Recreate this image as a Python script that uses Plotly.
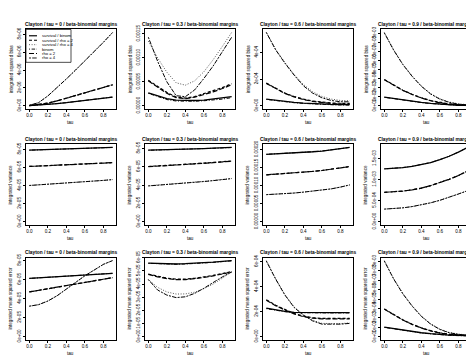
import plotly.graph_objects as go

# ---------------- data ----------------
tau = [0.0, 0.1, 0.2, 0.3, 0.4, 0.5, 0.6, 0.7, 0.8, 0.9]
series_names = ["survival / binom", "survival / rho = 2", "survival / rho = 4",
                "binom", "rho = 2", "rho = 4"]
copula_tau = ["0", "0.3", "0.6", "0.9"]
row_labels = ["integrated squared bias", "integrated variance",
              "integrated mean squared error"]

# each list: [surv_binom, surv_rho2, surv_rho4, binom, rho2, rho4] (scaled units)
isb_t00 = [
    [0.02, 0.08, 0.16, 0.25, 0.35, 0.46, 0.58, 0.70, 0.84, 0.98],
    [0.02, 0.12, 0.30, 0.55, 0.85, 1.15, 1.45, 1.75, 2.05, 2.35],
    [0.05, 0.35, 1.10, 2.00, 3.00, 4.00, 5.00, 6.05, 7.10, 8.20],
    [0.02, 0.08, 0.16, 0.25, 0.35, 0.46, 0.58, 0.70, 0.84, 0.98],
    [0.02, 0.12, 0.30, 0.55, 0.85, 1.15, 1.45, 1.75, 2.05, 2.35],
    [0.05, 0.35, 1.10, 2.00, 3.00, 4.00, 5.00, 6.05, 7.10, 8.20],
]
isb_t03 = [
    [2.7, 2.1, 1.5, 1.2, 1.1, 1.1, 1.2, 1.4, 1.6, 1.9],
    [5.3, 4.0, 2.8, 1.8, 1.6, 1.9, 2.5, 3.1, 3.8, 4.6],
    [13.5, 10.0, 7.0, 4.8, 4.3, 5.2, 7.1, 9.6, 12.4, 15.3],
    [2.6, 1.9, 1.3, 1.0, 0.9, 0.95, 1.05, 1.2, 1.4, 1.7],
    [5.2, 3.9, 2.6, 1.7, 1.5, 1.8, 2.3, 2.9, 3.6, 4.4],
    [14.3, 9.3, 5.0, 2.1, 1.9, 3.3, 5.7, 8.3, 11.3, 14.3],
]
isb_t06 = [
    [0.50, 0.40, 0.32, 0.25, 0.20, 0.15, 0.12, 0.10, 0.09, 0.08],
    [1.70, 1.30, 0.95, 0.70, 0.50, 0.36, 0.27, 0.21, 0.19, 0.18],
    [5.50, 4.25, 3.25, 2.35, 1.60, 1.05, 0.70, 0.50, 0.40, 0.38],
    [0.48, 0.38, 0.30, 0.23, 0.18, 0.13, 0.10, 0.08, 0.06, 0.05],
    [1.68, 1.28, 0.93, 0.67, 0.47, 0.33, 0.23, 0.17, 0.14, 0.12],
    [5.50, 4.20, 3.20, 2.30, 1.50, 0.95, 0.60, 0.40, 0.30, 0.30],
]
isb_t09 = [
    [0.96, 0.80, 0.64, 0.50, 0.37, 0.27, 0.18, 0.11, 0.06, 0.03],
    [2.90, 2.30, 1.72, 1.27, 0.88, 0.58, 0.35, 0.20, 0.12, 0.06],
    [8.10, 6.20, 4.60, 3.30, 2.20, 1.35, 0.77, 0.42, 0.22, 0.12],
    [0.94, 0.78, 0.62, 0.48, 0.35, 0.25, 0.16, 0.10, 0.05, 0.02],
    [2.88, 2.28, 1.70, 1.25, 0.86, 0.56, 0.33, 0.19, 0.10, 0.05],
    [8.05, 6.15, 4.55, 3.25, 2.15, 1.30, 0.73, 0.38, 0.18, 0.09],
]
var_t00 = [
    [7.90, 7.93, 7.96, 8.00, 8.03, 8.06, 8.10, 8.13, 8.17, 8.20],
    [6.10, 6.14, 6.18, 6.22, 6.27, 6.32, 6.37, 6.42, 6.47, 6.52],
    [4.00, 4.06, 4.12, 4.19, 4.26, 4.33, 4.40, 4.48, 4.56, 4.65],
    [7.90, 7.93, 7.96, 8.00, 8.03, 8.06, 8.10, 8.13, 8.17, 8.20],
    [6.10, 6.14, 6.18, 6.22, 6.27, 6.32, 6.37, 6.42, 6.47, 6.52],
    [4.00, 4.06, 4.12, 4.19, 4.26, 4.33, 4.40, 4.48, 4.56, 4.65],
]
var_t03 = [
    [7.80, 7.82, 7.85, 7.88, 7.91, 7.94, 7.98, 8.02, 8.06, 8.10],
    [6.02, 6.07, 6.13, 6.19, 6.25, 6.32, 6.39, 6.46, 6.54, 6.62],
    [3.92, 3.99, 4.06, 4.14, 4.22, 4.31, 4.40, 4.50, 4.61, 4.72],
    [7.79, 7.81, 7.84, 7.87, 7.90, 7.93, 7.97, 8.01, 8.05, 8.09],
    [6.00, 6.05, 6.11, 6.17, 6.23, 6.30, 6.37, 6.44, 6.52, 6.60],
    [3.90, 3.97, 4.04, 4.12, 4.20, 4.29, 4.38, 4.48, 4.59, 4.70],
]
var_t06 = [
    [18.7, 18.8, 18.9, 19.05, 19.2, 19.4, 19.6, 19.9, 20.2, 20.6],
    [13.0, 13.15, 13.3, 13.5, 13.7, 13.95, 14.2, 14.5, 14.9, 15.3],
    [7.5, 7.6, 7.75, 7.95, 8.2, 8.45, 8.75, 9.1, 9.6, 10.2],
    [18.7, 18.8, 18.9, 19.05, 19.2, 19.4, 19.6, 19.9, 20.2, 20.6],
    [13.0, 13.15, 13.3, 13.5, 13.7, 13.95, 14.2, 14.5, 14.9, 15.3],
    [7.5, 7.6, 7.75, 7.95, 8.2, 8.45, 8.75, 9.1, 9.6, 10.2],
]
var_t09 = [
    [1.26, 1.27, 1.29, 1.32, 1.36, 1.41, 1.48, 1.56, 1.66, 1.77],
    [0.70, 0.71, 0.73, 0.76, 0.80, 0.86, 0.93, 1.01, 1.10, 1.21],
    [0.30, 0.31, 0.33, 0.36, 0.40, 0.45, 0.51, 0.58, 0.66, 0.74],
    [1.26, 1.27, 1.29, 1.32, 1.36, 1.41, 1.48, 1.56, 1.66, 1.77],
    [0.70, 0.71, 0.73, 0.76, 0.80, 0.86, 0.93, 1.01, 1.10, 1.21],
    [0.30, 0.31, 0.33, 0.36, 0.40, 0.45, 0.51, 0.58, 0.66, 0.74],
]
mse_t00 = [
    [3.06, 3.09, 3.12, 3.15, 3.18, 3.21, 3.24, 3.27, 3.30, 3.33],
    [2.35, 2.43, 2.52, 2.60, 2.68, 2.77, 2.85, 2.93, 3.02, 3.10],
    [1.60, 1.68, 1.87, 2.15, 2.50, 2.85, 3.20, 3.50, 3.80, 4.00],
    [3.06, 3.09, 3.12, 3.15, 3.18, 3.21, 3.24, 3.27, 3.30, 3.33],
    [2.35, 2.43, 2.52, 2.60, 2.68, 2.77, 2.85, 2.93, 3.02, 3.10],
    [1.60, 1.68, 1.87, 2.15, 2.50, 2.85, 3.20, 3.50, 3.80, 4.00],
]
mse_t03 = [
    [5.60, 5.56, 5.53, 5.53, 5.55, 5.58, 5.62, 5.67, 5.73, 5.79],
    [4.76, 4.58, 4.45, 4.38, 4.38, 4.44, 4.54, 4.66, 4.80, 4.95],
    [4.34, 3.75, 3.40, 3.24, 3.25, 3.38, 3.65, 4.00, 4.45, 4.95],
    [5.58, 5.54, 5.51, 5.51, 5.53, 5.56, 5.60, 5.65, 5.71, 5.77],
    [4.74, 4.55, 4.42, 4.34, 4.34, 4.40, 4.50, 4.62, 4.77, 4.92],
    [4.34, 3.55, 3.16, 2.97, 3.03, 3.29, 3.68, 4.13, 4.55, 4.92],
]
mse_t06 = [
    [1.14, 1.07, 1.01, 0.97, 0.96, 0.96, 0.96, 0.96, 0.96, 0.96],
    [1.48, 1.26, 1.09, 0.93, 0.82, 0.76, 0.73, 0.73, 0.73, 0.73],
    [3.05, 2.33, 1.69, 1.19, 0.88, 0.66, 0.53, 0.51, 0.52, 0.55],
    [1.12, 1.05, 1.00, 0.96, 0.95, 0.95, 0.95, 0.95, 0.95, 0.95],
    [1.46, 1.24, 1.07, 0.91, 0.80, 0.74, 0.71, 0.71, 0.71, 0.71],
    [3.03, 2.31, 1.67, 1.17, 0.86, 0.63, 0.50, 0.49, 0.50, 0.53],
]
mse_t09 = [
    [1.00, 0.84, 0.68, 0.54, 0.41, 0.31, 0.22, 0.16, 0.12, 0.10],
    [2.95, 2.35, 1.78, 1.32, 0.93, 0.63, 0.40, 0.26, 0.18, 0.13],
    [8.10, 6.20, 4.60, 3.30, 2.20, 1.38, 0.80, 0.45, 0.27, 0.17],
    [0.98, 0.82, 0.66, 0.52, 0.39, 0.29, 0.20, 0.14, 0.10, 0.08],
    [2.93, 2.33, 1.76, 1.30, 0.91, 0.61, 0.38, 0.24, 0.16, 0.11],
    [8.05, 6.15, 4.55, 3.25, 2.15, 1.33, 0.76, 0.41, 0.24, 0.15],
]

panels = [
    [isb_t00, isb_t03, isb_t06, isb_t09],
    [var_t00, var_t03, var_t06, var_t09],
    [mse_t00, mse_t03, mse_t06, mse_t09],
]

# y tick values (scaled units) and labels per panel
ytick_vals = [
    [[0, 2, 4, 6, 8], [0, 5, 10, 15], [0, 2, 4], [0, 1, 2, 3, 4, 5, 6, 7, 8]],
    [[0, 2, 4, 6, 8], [0, 2, 4, 6, 8], [0, 5, 10, 15, 20], [0, 0.5, 1.0, 1.5]],
    [[0, 1, 2, 3, 4], [0, 1, 2, 3, 4, 5, 6], [0, 1, 2, 3], [0, 1, 2, 3, 4, 5, 6, 7, 8]],
]
ytick_text = [
    [["0e+00", "2e-06", "4e-06", "6e-06", "8e-06"],
     ["0.00000", "0.00005", "0.00010", "0.00015"],
     ["0e+00", "2e-04", "4e-04"],
     ["0e+00", "1e-03", "2e-03", "3e-03", "4e-03", "5e-03", "6e-03", "7e-03", "8e-03"]],
    [["0e+00", "2e-05", "4e-05", "6e-05", "8e-05"],
     ["0e+00", "2e-05", "4e-05", "6e-05", "8e-05"],
     ["0.00000", "0.00005", "0.00010", "0.00015", "0.00020"],
     ["0.0e+00", "5.0e-04", "1.0e-03", "1.5e-03"]],
    [["0e+00", "2e-05", "4e-05", "6e-05", "8e-05"],
     ["0e+00", "1e-05", "2e-05", "3e-05", "4e-05", "5e-05", "6e-05"],
     ["0e+00", "2e-04", "4e-04", "6e-04"],
     ["0e+00", "1e-03", "2e-03", "3e-03", "4e-03", "5e-03", "6e-03", "7e-03", "8e-03"]],
]
xtick_vals = [0.0, 0.2, 0.4, 0.6, 0.8]
xtick_text = ["0.0", "0.2", "0.4", "0.6", "0.8"]

# ---------------- styling ----------------
W, H = 474, 355
FONT = "Liberation Sans, Arial, sans-serif"
dashes = ["solid", "3px,2px", "1px,1.6px", "1px,1.6px,3.5px,1.6px", "5px,2px", "2px,1.2px,4.5px,1.2px"]
widths = [1.3, 1.2, 1.0, 1.0, 1.2, 1.0]
colors = ["black", "black", "#555555", "black", "black", "black"]

col_left = [18, 137, 255, 373]
plot_w = 90
row_top = [15, 134, 251]
row_bot = [97, 217, 336]

fig = go.Figure()
annotations = []
shapes = []

for r in range(3):
    for c in range(4):
        k = r * 4 + c + 1
        xa = "x" if k == 1 else f"x{k}"
        ya = "y" if k == 1 else f"y{k}"
        data = panels[r][c]
        for s in range(6):
            fig.add_trace(go.Scatter(
                x=tau, y=data[s], mode="lines", xaxis=xa, yaxis=ya,
                line=dict(color=colors[s], width=widths[s], dash=dashes[s]),
                name=series_names[s], showlegend=False))
        ymax = max(max(v) for v in data)
        ymin = 0.0
        span = ymax - ymin
        x0 = col_left[c] / W
        x1 = (col_left[c] + plot_w) / W
        y0 = 1 - row_bot[r] / H
        y1 = 1 - row_top[r] / H
        axkw = dict(showline=True, mirror=True, linecolor="black", linewidth=0.8,
                    showgrid=False, zeroline=False, ticks="outside", ticklen=2,
                    tickwidth=0.7, tickcolor="black",
                    tickfont=dict(family=FONT, size=4.6, color="black"))
        fig.update_layout(**{
            ("xaxis" if k == 1 else f"xaxis{k}"): dict(
                domain=[x0, x1], anchor=ya, range=[-0.036, 0.936],
                tickmode="array", tickvals=xtick_vals, ticktext=xtick_text, **axkw),
            ("yaxis" if k == 1 else f"yaxis{k}"): dict(
                domain=[y0, y1], anchor=xa,
                range=[ymin - 0.04 * span, ymax + 0.04 * span],
                tickmode="array", tickvals=ytick_vals[r][c], ticktext=ytick_text[r][c],
                tickangle=-90, **axkw),
        })
        # title
        annotations.append(dict(
            text=f"<b>Clayton / tau = {copula_tau[c]} / beta-binomial margins</b>",
            x=(col_left[c] + plot_w / 2) / W, y=1 - (row_top[r] - 5) / H,
            xref="paper", yref="paper", showarrow=False,
            font=dict(family=FONT, size=4.8, color="black"),
            xanchor="center", yanchor="middle"))
        # x title
        annotations.append(dict(
            text="tau", x=(col_left[c] + plot_w / 2) / W, y=1 - (row_bot[r] + 14) / H,
            xref="paper", yref="paper", showarrow=False,
            font=dict(family=FONT, size=4.6, color="black"),
            xanchor="center", yanchor="middle"))
        # y title
        annotations.append(dict(
            text=row_labels[r], x=(col_left[c] - 15) / W,
            y=1 - (row_top[r] + row_bot[r]) / 2 / H,
            xref="paper", yref="paper", showarrow=False, textangle=-90,
            font=dict(family=FONT, size=4.6, color="black"),
            xanchor="center", yanchor="middle"))

# legend in first panel
lx0, ly0, lx1, ly1 = 18, 15, 63, 49
shapes.append(dict(type="rect", xref="paper", yref="paper",
                   x0=lx0 / W, x1=lx1 / W, y0=1 - ly1 / H, y1=1 - ly0 / H,
                   line=dict(color="black", width=0.7), fillcolor="white"))
for s in range(6):
    yy = 21.5 + s * 4.6
    shapes.append(dict(type="line", xref="paper", yref="paper",
                       x0=21 / W, x1=29 / W, y0=1 - yy / H, y1=1 - yy / H,
                       line=dict(color=colors[s], width=widths[s] * 0.9, dash=dashes[s])))
    annotations.append(dict(text=series_names[s], x=31.5 / W, y=1 - yy / H,
                            xref="paper", yref="paper", showarrow=False,
                            xanchor="left", yanchor="middle",
                            font=dict(family=FONT, size=4.2, color="black")))

fig.update_layout(width=W, height=H, margin=dict(l=0, r=0, t=0, b=0),
                  paper_bgcolor="white", plot_bgcolor="white",
                  showlegend=False, annotations=annotations, shapes=shapes)

fig.write_html("out.html")
